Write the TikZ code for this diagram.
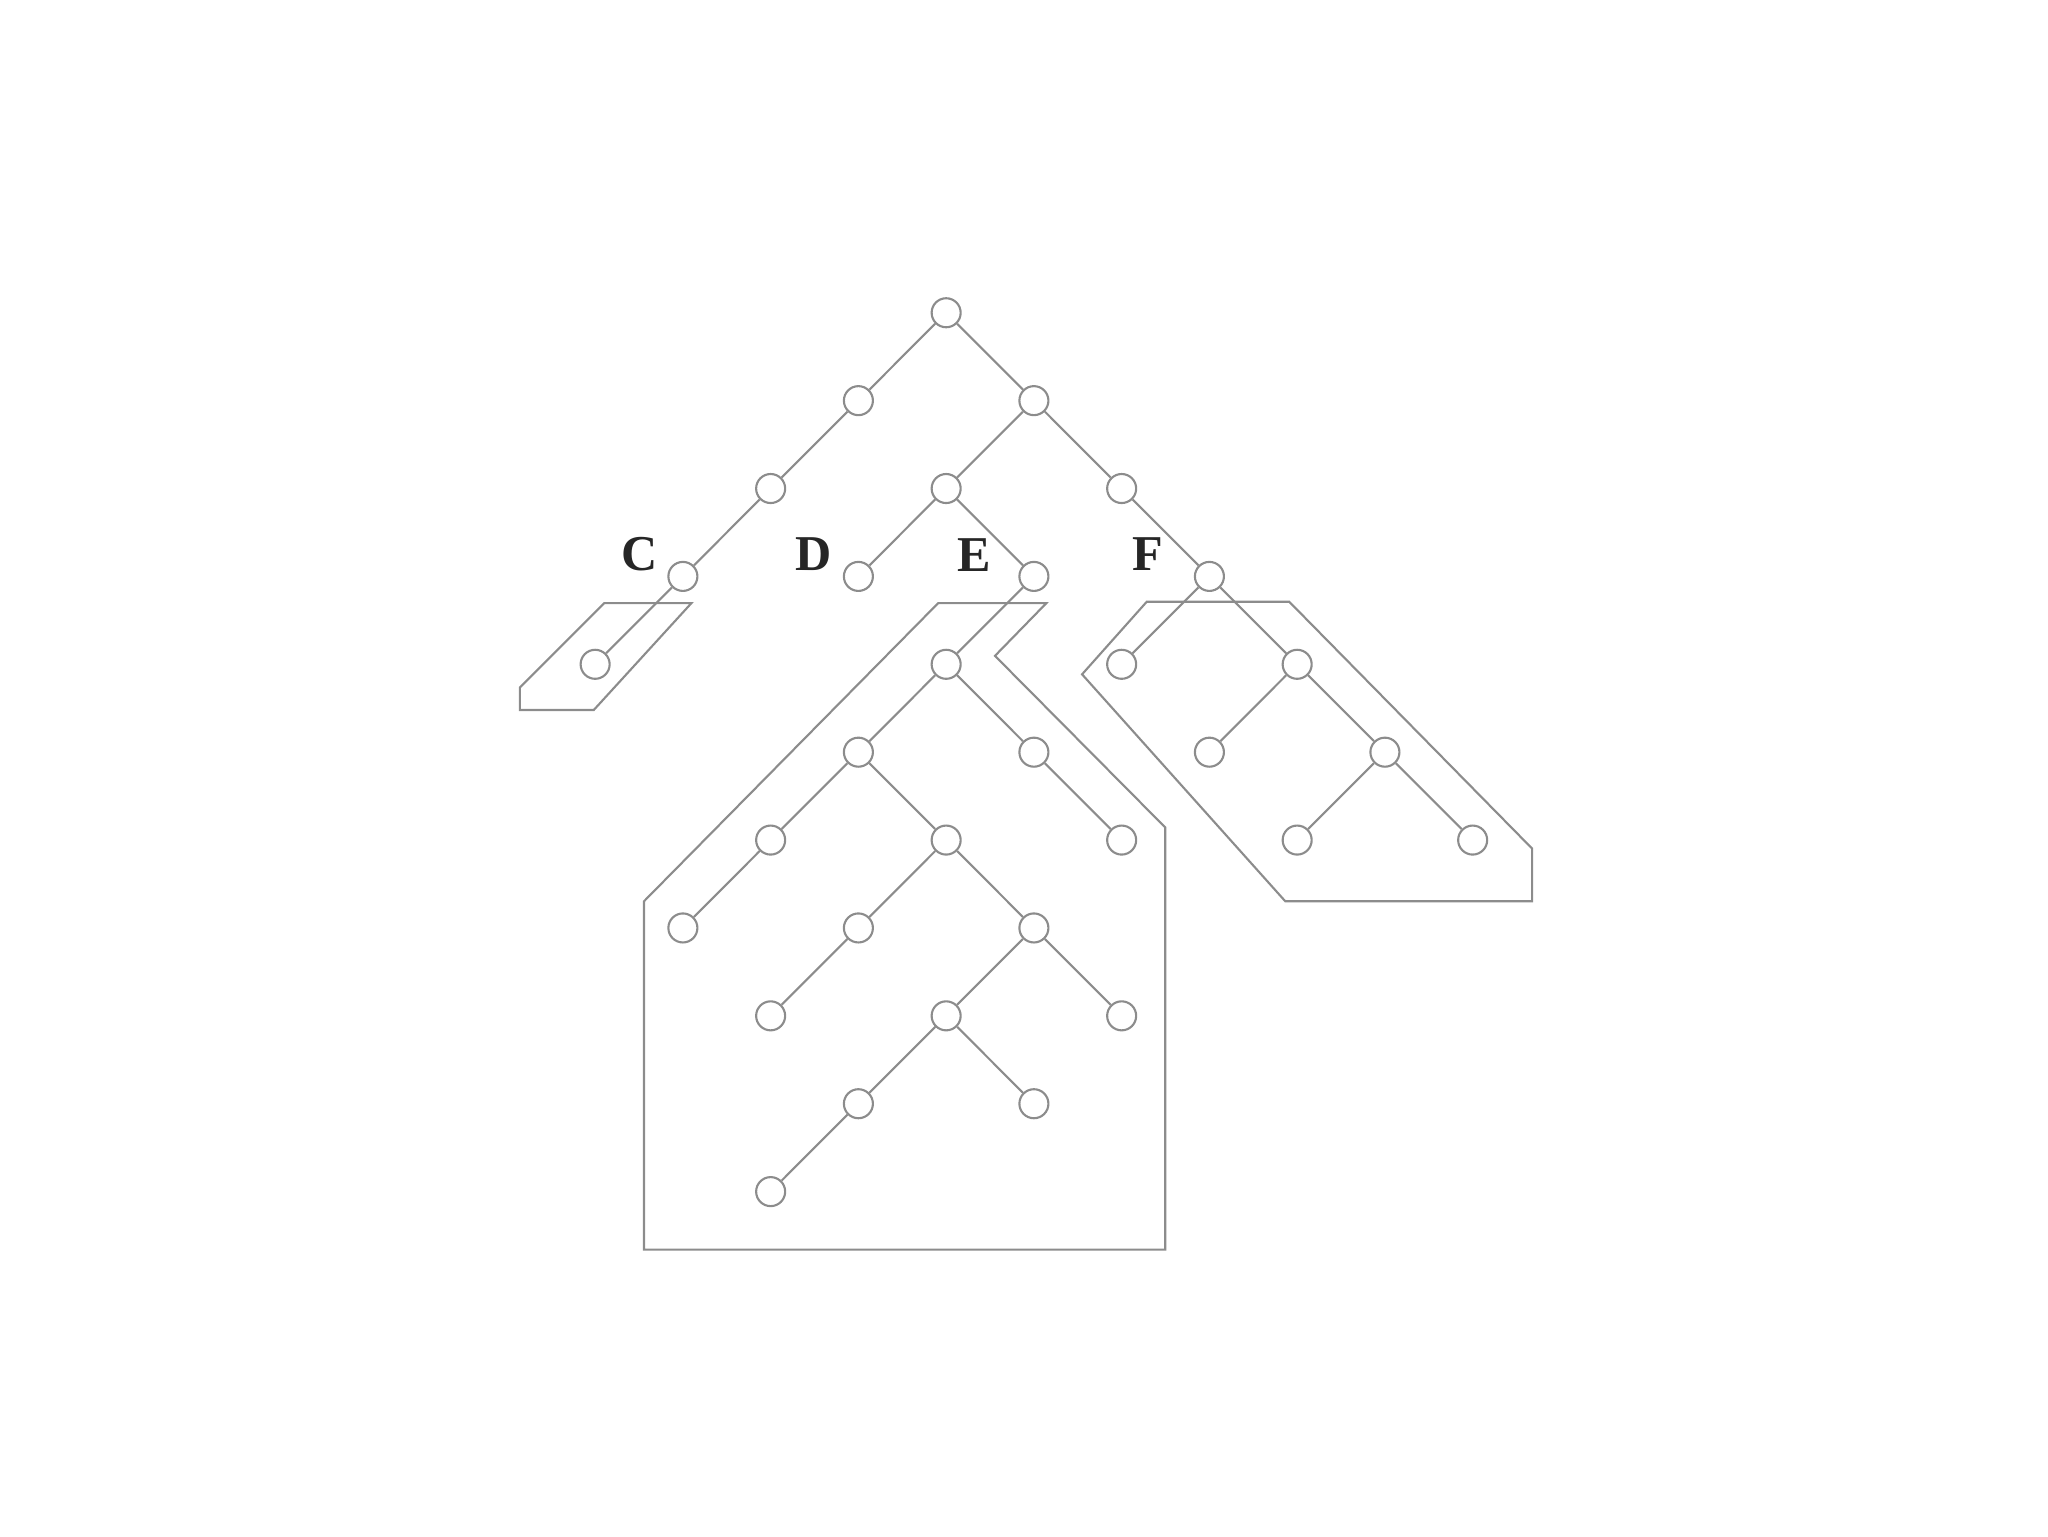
\documentclass[tikz,border=0pt]{standalone}
\usepackage{fontspec}
\setmainfont{Liberation Serif}
\usetikzlibrary{positioning}

\tikzset{
  vert/.style={circle, draw=black!45, fill=white, line width=0.8pt, minimum size=11pt, inner sep=0pt},
  lbl/.style={font=\bfseries\fontsize{19}{23}\selectfont, text=black!85, inner sep=0pt},
  link/.style={draw=black!45, line width=0.8pt},
  group/.style={draw=black!45, line width=0.8pt, line join=miter},
}

\begin{document}
\begin{tikzpicture}[x=0.5pt, y=-0.5pt, on grid, node distance=33.3pt and 33.25pt]
    \useasboundingbox (0,0) rectangle (1552,1164);

    % upper tree
    \node[vert] at (717,237) (r) {};
    \node[vert, below left=of r] (a) {};
    \node[vert, below right=of r] (b) {};
    \node[vert, below left=of a] (a1) {};
    \node[vert, below left=of b] (b1) {};
    \node[vert, below right=of b] (b2) {};

    \node[vert, below left=of a1] (c) {};
    \node[vert, below left=of b1] (d) {};
    \node[vert, below right=of b1] (e) {};
    \node[vert, below right=of b2] (f) {};

    \node[lbl, above left=8.5pt and 16.5pt of c] (lc) {C};
    \node[lbl, above left=8.5pt and 17pt of d] (ld) {D};
    \node[lbl, above left=8pt and 22.5pt of e] (le) {E};
    \node[lbl, above left=8.5pt and 23.5pt of f] (lf) {F};

    % subtree C
    \node[vert, below left=of c] (c1) {};

    % subtree E
    \node[vert, below left=of e] (e1) {};
    \node[vert, below left=of e1] (e2) {};
    \node[vert, below right=of e1] (e3) {};
    \node[vert, below left=of e2] (e4) {};
    \node[vert, below right=of e2] (e5) {};
    \node[vert, below right=of e3] (e6) {};
    \node[vert, below left=of e4] (e7) {};
    \node[vert, below left=of e5] (e8) {};
    \node[vert, below right=of e5] (e9) {};
    \node[vert, below left=of e8] (e10) {};
    \node[vert, below left=of e9] (e11) {};
    \node[vert, below right=of e9] (e12) {};
    \node[vert, below left=of e11] (e13) {};
    \node[vert, below right=of e11] (e14) {};
    \node[vert, below left=of e13] (e15) {};

    % subtree F
    \node[vert, below left=of f] (f1) {};
    \node[vert, below right=of f] (f2) {};
    \node[vert, below left=of f2] (f3) {};
    \node[vert, below right=of f2] (f4) {};
    \node[vert, below left=of f4] (f5) {};
    \node[vert, below right=of f4] (f6) {};

    \draw[link] (r) -- (a);
    \draw[link] (r) -- (b);
    \draw[link] (a) -- (a1);
    \draw[link] (b) -- (b1);
    \draw[link] (b) -- (b2);
    \draw[link] (a1) -- (c);
    \draw[link] (b1) -- (d);
    \draw[link] (b1) -- (e);
    \draw[link] (b2) -- (f);
    \draw[link] (c) -- (c1);
    \draw[link] (e) -- (e1);
    \draw[link] (e1) -- (e2);
    \draw[link] (e1) -- (e3);
    \draw[link] (e2) -- (e4);
    \draw[link] (e2) -- (e5);
    \draw[link] (e3) -- (e6);
    \draw[link] (e4) -- (e7);
    \draw[link] (e5) -- (e8);
    \draw[link] (e5) -- (e9);
    \draw[link] (e8) -- (e10);
    \draw[link] (e9) -- (e11);
    \draw[link] (e9) -- (e12);
    \draw[link] (e11) -- (e13);
    \draw[link] (e11) -- (e14);
    \draw[link] (e13) -- (e15);
    \draw[link] (f) -- (f1);
    \draw[link] (f) -- (f2);
    \draw[link] (f2) -- (f3);
    \draw[link] (f2) -- (f4);
    \draw[link] (f4) -- (f5);
    \draw[link] (f4) -- (f6);

    % outlines of the subtrees
    \draw[group] (458,457) -- (524,457) -- (450,538) -- (394,538) -- (394,521) -- cycle;
    \draw[group] (711,457) -- (793,457) -- (754,497) -- (883,627) -- (883,947) -- (488,947) -- (488,683) -- cycle;
    \draw[group] (869,456) -- (977,456) -- (1161,643) -- (1161,683) -- (974,683) -- (820,511) -- cycle;
\end{tikzpicture}
\end{document}
